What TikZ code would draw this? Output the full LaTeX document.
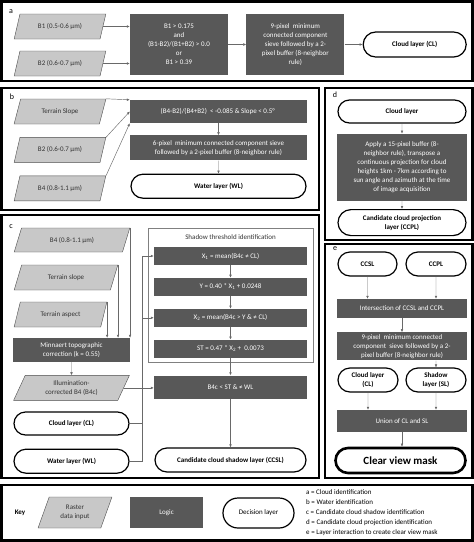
\documentclass[tikz,border=0pt]{standalone}
\usepackage{fontspec}
\setmainfont{Carlito}
\usetikzlibrary{arrows.meta}
\usetikzlibrary{positioning}
\usetikzlibrary{shapes.geometric,shapes.misc}
\definecolor{logicgray}{RGB}{88,88,88}
\definecolor{rastergray}{RGB}{200,200,200}
\definecolor{linegray}{RGB}{105,105,105}

\begin{document}
\begin{tikzpicture}
    [x=1pt, y=-1pt,
     every node/.style={font=\fontsize{7}{9}\selectfont, inner sep=1pt},
     raster/.style={trapezium, trapezium left angle=68, trapezium right angle=112, trapezium stretches=true, draw=black!70, fill=rastergray, text=black!80, minimum height=25pt, align=center},
     logic/.style={rectangle, fill=logicgray, text=white, align=center},
     layer/.style={rounded rectangle, draw=black, line width=1.2pt, fill=white, align=center, font=\fontsize{7}{9}\selectfont\bfseries},
     arr/.style={-{Latex[length=3pt, width=2.6pt]}, draw=linegray, line width=0.45pt},
     ln/.style={draw=linegray, line width=0.45pt},
     panel/.style={draw=black, line width=2.5pt},
     lbl/.style={font=\fontsize{8}{9}\selectfont}]

    \useasboundingbox [fill=white] (0,0) rectangle (474,542);

    \draw [panel] (1.5,1.5) rectangle (472.5,81);
    \node [lbl] (la) at (11,12) {a};
    \node [raster, minimum width=92pt] (a1) at (60,26.5) {B1 (0.5-0.6 µm)};
    \node [raster, minimum width=92pt] (a2) at (60,63.5) {B2 (0.6-0.7 µm)};
    \node [logic, minimum width=98pt, minimum height=61pt] (a3) at (179,44.5) {
    B1 > 0.175\\and\\(B1-B2)/(B1+B2) > 0.0\\or\\B1 > 0.39
    };
    \node [logic, minimum width=98pt, minimum height=61pt, right=18pt of a3] (a4) {
    9-pixel\ \ minimum\\connected component\\sieve followed by a 2-\\pixel buffer (8-neighbor\\rule)
    };
    \node [layer, minimum width=105pt, minimum height=25pt, right=18pt of a4] (a5) {Cloud layer (CL)};

    \draw [arr] (a1.east) -- (a1.east -| a3.west);
    \draw [arr] (a2.east) -- (a2.east -| a3.west);
    \draw [arr] (a3) -- (a4);
    \draw [arr] (a4) -- (a5);

    \draw [panel] (1.5,88) rectangle (319,210);
    \node [lbl] (lb) at (12,97) {b};
    \node [raster, minimum width=92pt] (b1) at (60,111.5) {Terrain Slope};
    \node [raster, minimum width=92pt, below=13pt of b1] (b2) {B2 (0.6-0.7 µm)};
    \node [raster, minimum width=92pt, below=13pt of b2] (b3) {B4 (0.8-1.1 µm)};
    \node [logic, minimum width=177pt, minimum height=23pt] (b4) at (218.5,111.5) {
    (B4-B2)/(B4+B2)\ \ < -0.085 \& Slope < 0.5°
    };
    \node [logic, minimum width=177pt, minimum height=25pt, below=12pt of b4] (b5) {
    6-pixel\ \ minimum connected component sieve\\followed by a 2-pixel buffer (8-neighbor rule)
    };
    \node [layer, minimum width=177pt, minimum height=24pt, below=13pt of b5] (b6) {Water layer (WL)};

    \draw [arr] (b1.top right corner) -- (b4.north west);
    \draw [arr] (b2.top right corner) -- (b4.west);
    \draw [arr] (b3.top right corner) -- (b4.south west);
    \draw [arr] (b4) -- (b5);
    \draw [arr] (b5) -- (b6);

    \draw [panel] (325,88) rectangle (472.5,240);
    \node [lbl] (ld) at (335,95) {d};
    \node [layer, minimum width=130pt, minimum height=23pt] (d1) at (402,111.5) {Cloud layer};
    \node [logic, minimum width=130pt, minimum height=67pt, below=10pt of d1] (d2) {
    Apply a 15-pixel buffer (8-\\neighbor rule), transpose a\\continuous projection for cloud\\heights 1km - 7km according to\\sun angle and azimuth at the time\\of image acquisition
    };
    \node [layer, minimum width=130pt, minimum height=26pt, below=8pt of d2] (d3) {
    Candidate cloud projection\\layer (CCPL)
    };

    \draw [arr] (d1) -- (d2);
    \draw [arr] (d2) -- (d3);

    \draw [panel] (325,244) rectangle (472.5,478);
    \node [lbl] (le) at (335,249) {e};
    \node [layer, minimum width=61pt, minimum height=24pt] (e1) at (367.5,264) {CCSL};
    \node [layer, minimum width=62pt, minimum height=24pt] (e2) at (436,264) {CCPL};
    \node [logic, minimum width=130pt, minimum height=19pt] (e3) at (402,308.5) {Intersection of CCSL and CCPL};
    \node [logic, minimum width=130pt, minimum height=28pt, below=14pt of e3] (e4) {
    9-pixel\ \ minimum connected\\component\ \ sieve followed by a 2-\\pixel buffer (8-neighbor rule)
    };
    \node [layer, minimum width=62pt, minimum height=24pt] (e5) at (368,380) {Cloud layer\\(CL)};
    \node [layer, minimum width=62pt, minimum height=24pt] (e6) at (436,380) {Shadow\\layer (SL)};
    \node [logic, minimum width=130pt, minimum height=22pt] (e7) at (402,421) {Union of CL and SL};
    \node [layer, minimum width=132pt, minimum height=25pt, line width=2.6pt, font=\fontsize{11}{13}\selectfont\bfseries] (e8) at (400.5,460.5) {Clear view mask};

    \draw [arr] (e1) -- (e1 |- e3.north);
    \draw [arr] (e2) -- (e2 |- e3.north);
    \draw [arr] (e3) -- (e4);
    \draw [arr] (e4.south -| e6) -- (e6);
    \draw [arr] (e5) -- (e5 |- e7.north);
    \draw [arr] (e6) -- (e6 |- e7.north);
    \draw [arr] (e7) -- (e7 |- e8.north);

    \draw [panel] (1.5,215) rectangle (319,478);
    \node [lbl] (lc) at (11,227) {c};
    \node [raster, minimum width=116pt, minimum height=24pt] (c1) at (72,240) {B4 (0.8-1.1 µm)};
    \node [raster, minimum width=104pt] (c2) at (66,277.5) {Terrain slope};
    \node [raster, minimum width=93pt] (c3) at (60.5,314.5) {Terrain aspect};
    \node [logic, minimum width=117pt, minimum height=24pt] (c4) at (71.5,350) {
    Minnaert topographic\\correction (k = 0.55)
    };
    \node [raster, minimum width=116pt, below=13pt of c4] (c5) {
    Illumination-\\corrected B4 (B4c)
    };
    \node [layer, minimum width=117pt, minimum height=23pt] (c6) at (71.5,423.5) {Cloud layer (CL)};
    \node [layer, minimum width=117pt, minimum height=24pt, below=13pt of c6] (c7) {Water layer (WL)};

    \draw [draw=gray, line width=0.8pt] (148,228) rectangle (313,362);
    \node [text=black!80] (c8) at (230.5,237) {Shadow threshold identification};
    \node [logic, minimum width=153pt, minimum height=18pt] (c9) at (230.5,256) {X\textsubscript{1} = mean(B4c ≠ CL)};
    \node [logic, minimum width=153pt, minimum height=18pt, below=12.5pt of c9] (c10) {Y = 0.40 * X\textsubscript{1} + 0.0248};
    \node [logic, minimum width=153pt, minimum height=18pt, below=12.5pt of c10] (c11) {X\textsubscript{2} = mean(B4c > Y \& ≠ CL)};
    \node [logic, minimum width=153pt, minimum height=18pt, below=12.5pt of c11] (c12) {ST = 0.47 * X\textsubscript{2} +\ \ 0.0073};
    \node [logic, minimum width=153pt, minimum height=23pt] (c13) at (230.5,387) {B4c < ST \& ≠ WL};
    \node [layer, minimum width=153pt, minimum height=24pt] (c14) at (230.5,460) {Candidate cloud shadow layer (CCSL)};

    \draw [arr] (c1.top right corner) -- (c1.top right corner |- c4.north);
    \draw [arr] (c2.top right corner) -- (c2.top right corner |- c4.north);
    \draw [arr] (c3.top right corner) -- (c3.top right corner |- c4.north);
    \draw [arr] (c4) -- (c5);
    \draw [arr] (c5.east) -- (c5.east -| c13.west);
    \coordinate (cb) at (142,0);
    \draw [ln] (c6.east) -- (c6.east -| cb);
    \draw [arr] (c7.east) -- (c7.east -| cb) -- (cb |- c9.west) -- (c9.west);
    \draw [arr] (cb |- c11.west) -- (c11.west);
    \draw [arr] (c9) -- (c10);
    \draw [arr] (c10) -- (c11);
    \draw [arr] (c11) -- (c12);
    \draw [arr] (c12) -- (c13);
    \draw [arr] (c13) -- (c14);

    \draw [panel] (1.5,485) rectangle (472.5,540.5);
    \node [font=\fontsize{7}{9}\selectfont\bfseries] (k0) at (20,513) {Key};
    \node [raster, minimum width=74pt, minimum height=31pt] (k1) at (75,512.5) {Raster\\data input};
    \node [logic, minimum width=73pt, minimum height=31pt] (k2) at (166.5,512.5) {Logic};
    \node [layer, minimum width=73pt, minimum height=30pt, font=\fontsize{7}{9}\selectfont] (k3) at (258.5,513) {Decision layer};
    \node [anchor=west, align=left, font=\fontsize{7}{10}\selectfont] (k4) at (305,513) {
    a = Cloud identification\\
    b = Water identification\\
    c = Candidate cloud shadow identification\\
    d = Candidate cloud projection identification\\
    e = Layer interaction to create clear view mask
    };
\end{tikzpicture}
\end{document}
